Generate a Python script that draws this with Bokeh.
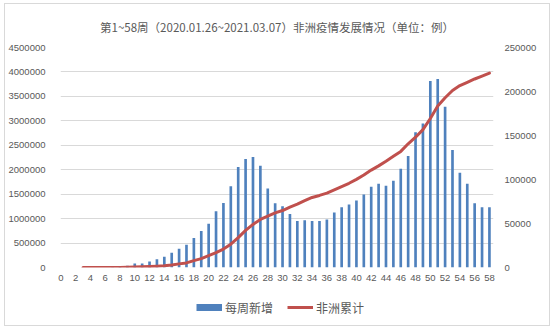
from bokeh.plotting import figure
from bokeh.layouts import column
from bokeh.models import (Range1d, LinearAxis, FixedTicker, BasicTickFormatter,
                          Legend, LegendItem, ColumnDataSource)
from bokeh.embed import file_html
from bokeh.resources import INLINE

title_text = "第1~58周（2020.01.26~2021.03.07）非洲疫情发展情况（单位：例）"
series_names = ["每周新增", "非洲累计"]

weeks = list(range(3, 59))
weekly_new = [
    0, 0, 0, 0, 300, 900,                       # wk3-8
    1900, 4500, 4500, 6700, 9300, 12300,        # wk9-14
    16800, 21300, 25800, 33600, 41500, 49700,   # wk15-20
    63900, 73200, 92300, 114300, 123300, 125600,  # wk21-26
    115500, 89700, 72900, 69500, 60700, 52700,  # wk27-32
    53800, 52700, 52700, 54600, 62400, 68400,   # wk33-38
    71700, 76200, 83000, 91900, 95300, 93000,   # wk39-44
    98700, 112100, 126700, 153600, 163700, 211900,  # wk45-50
    214100, 182700, 133400, 107600, 95300, 72900,   # wk51-56
    68400, 68400,                               # wk57-58
]
cumulative = [
    0, 0, 0, 0, 0, 2000,                        # wk3-8
    4000, 8000, 13000, 20000, 27000, 34000,     # wk9-14
    50000, 74000, 94000, 141000, 182000, 242000,  # wk15-20
    303000, 377000, 478000, 612000, 760000, 882000,  # wk21-26
    982000, 1050000, 1117000, 1165000, 1235000, 1295000,  # wk27-32
    1366000, 1433000, 1474000, 1521000, 1588000, 1655000,  # wk33-38
    1723000, 1803000, 1891000, 1992000, 2079000, 2174000,  # wk39-44
    2275000, 2375000, 2530000, 2665000, 2820000, 3048000,  # wk45-50
    3304000, 3472000, 3620000, 3721000, 3789000, 3856000,  # wk51-56
    3916000, 3977000,                           # wk57-58
]
x_ticks = list(range(0, 59, 2))
left_ticks = list(range(0, 4500001, 500000))
right_ticks = list(range(0, 250001, 50000))

src = ColumnDataSource(dict(week=weeks, new=weekly_new, cum=cumulative))

TXT = "#595959"
BLUE = "#4f81bd"
RED = "#c0504d"
NUMFONT = "Liberation Sans"
CJK = "Noto Sans CJK SC"

p = figure(width=544, height=290, output_backend="svg", toolbar_location=None,
           x_range=Range1d(-0.05, 58.55), y_range=Range1d(0, 4500000),
           min_border_left=55, min_border_right=56, min_border_top=41,
           min_border_bottom=27)
p.extra_y_ranges = {"new": Range1d(0, 250000)}
p.outline_line_color = None
p.background_fill_color = "white"
p.border_fill_color = "white"

# title
p.title.text = title_text
p.title.align = "center"
p.title.text_font = CJK
p.title.text_font_size = "11.5px"
p.title.text_font_style = "normal"
p.title.text_color = TXT
p.title.standoff = 25

# axes
for ax in [p.xaxis[0], p.yaxis[0]]:
    ax.axis_line_color = None
    ax.major_tick_line_color = None
    ax.minor_tick_line_color = None
    ax.major_label_text_font = NUMFONT
    ax.major_label_text_font_size = "9.5px"
    ax.major_label_text_color = TXT
p.xaxis.ticker = FixedTicker(ticks=x_ticks)
p.xaxis.major_label_standoff = 1
p.yaxis.ticker = FixedTicker(ticks=left_ticks)
p.yaxis.formatter = BasicTickFormatter(use_scientific=False)
p.yaxis.major_label_standoff = 9

rax = LinearAxis(y_range_name="new", ticker=FixedTicker(ticks=right_ticks),
                 formatter=BasicTickFormatter(use_scientific=False))
rax.axis_line_color = None
rax.major_tick_line_color = None
rax.minor_tick_line_color = None
rax.major_label_text_font = NUMFONT
rax.major_label_text_font_size = "9.5px"
rax.major_label_text_color = TXT
rax.major_label_standoff = 5
p.add_layout(rax, "right")

p.xgrid.grid_line_color = None
p.ygrid.grid_line_color = "#d9d9d9"
p.ygrid.ticker = FixedTicker(ticks=left_ticks)

# data
p.vbar(x="week", top="new", bottom=0, width=0.36, source=src,
       y_range_name="new", fill_color=BLUE, line_color=None)
p.line(x="week", y="cum", source=src, line_color=RED,
       line_width=3, line_join="round", line_cap="round")

# legend strip
lg = figure(width=544, height=31, output_backend="svg", toolbar_location=None,
            x_range=Range1d(0, 1), y_range=Range1d(0, 1),
            x_axis_location=None, y_axis_location=None,
            min_border=0, min_border_left=0, min_border_right=0,
            min_border_top=0, min_border_bottom=0)
lg.outline_line_color = None
lg.xgrid.grid_line_color = None
lg.ygrid.grid_line_color = None
lg.background_fill_color = "white"
lg.border_fill_color = "white"
d_bar = lg.line(x=[float("nan")], y=[float("nan")], line_color=BLUE,
                line_width=7, line_cap="butt")
d_line = lg.line(x=[float("nan")], y=[float("nan")], line_color=RED,
                 line_width=3, line_cap="butt")
legend = Legend(items=[LegendItem(label=series_names[0], renderers=[d_bar]),
                       LegendItem(label=series_names[1], renderers=[d_line])],
                orientation="horizontal", location=(136, 8),
                glyph_width=26, glyph_height=20, label_standoff=3, spacing=14,
                label_text_font=CJK, label_text_font_size="12px",
                label_text_color=TXT, border_line_color=None,
                background_fill_alpha=0, margin=0, padding=0)
lg.add_layout(legend, "center")

layout = column(p, lg, spacing=0)
layout.styles = {"margin-left": "4px", "margin-top": "3px",
                 "border": "1px solid #d9d9d9"}

open("out.html", "w").write(file_html(layout, INLINE))
